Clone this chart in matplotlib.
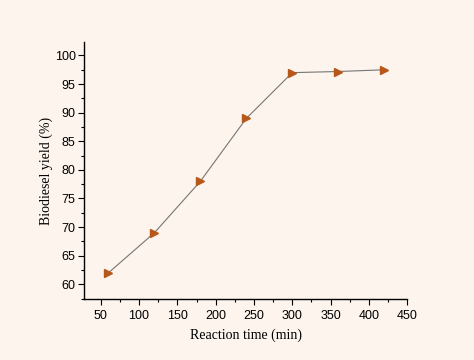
import matplotlib.pyplot as plt
from matplotlib.ticker import MultipleLocator

time_min = [60, 120, 180, 240, 300, 360, 420]
yield_pct = [62, 69, 78, 89, 97, 97.2, 97.5]

bg = '#fcf4ed'
fig = plt.figure(figsize=(4.74, 3.6), dpi=100, facecolor=bg)
ax = fig.add_axes([0.177, 0.169, 0.682, 0.715], facecolor=bg)

ax.plot(time_min, yield_pct, color='#767676', linewidth=0.8, zorder=2)
ax.plot(time_min, yield_pct, ls='none', marker='>', markersize=6,
        color='#b5581a', markeredgecolor='#b5581a', zorder=3)

ax.set_xlim(28, 450)
ax.set_ylim(57.4, 102.4)
ax.xaxis.set_major_locator(MultipleLocator(50))
ax.xaxis.set_minor_locator(MultipleLocator(25))
ax.yaxis.set_major_locator(MultipleLocator(5))
ax.yaxis.set_minor_locator(MultipleLocator(2.5))
ax.spines['top'].set_visible(False)
ax.spines['right'].set_visible(False)
for s in ['left', 'bottom']:
    ax.spines[s].set_linewidth(1.0)
ax.tick_params(which='major', direction='out', length=4, width=0.8,
               labelsize=9)
ax.tick_params(axis='y', which='major', pad=2)
ax.tick_params(which='minor', direction='out', length=2.5, width=0.8)
for lab in ax.get_xticklabels() + ax.get_yticklabels():
    lab.set_fontfamily('Liberation Sans')

ax.set_xlabel('Reaction time (min)', family='Liberation Serif', fontsize=10,
              labelpad=5)
ax.set_ylabel('Biodiesel yield (%)', family='Liberation Serif', fontsize=10,
              labelpad=1)

fig.savefig('out.png', dpi=100, facecolor=bg)
